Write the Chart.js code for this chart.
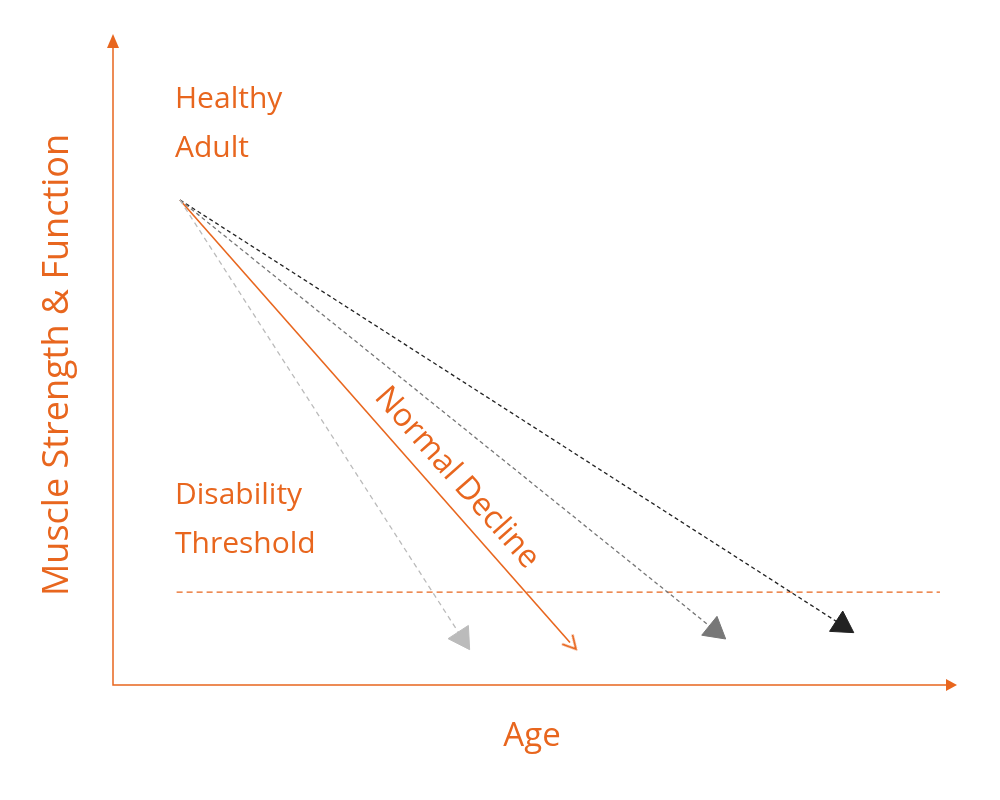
<!DOCTYPE html>
<html><head><meta charset="utf-8">
<script src="https://cdn.jsdelivr.net/npm/chart.js@4"></script>
<style>html,body{margin:0;padding:0;background:#fff}#w{width:1000px;height:800px}</style>
</head><body><div id="w"><canvas id="c"></canvas></div>
<script>
const ORANGE = '#E8661E';
const startPoint = [8.0, 75.2];
const lightEnd = [41.7, 7.3];
const normalEnd = [54.6, 6.6];
const midEnd = [71.9, 8.5];
const darkEnd = [87.1, 9.3];
const thresholdY = 14.4;
const thresholdX = [7.6, 98.8];
const labels = {healthy:['Healthy','Adult'], disability:['Disability','Threshold'], decline:'Normal Decline', xTitle:'Age', yTitle:'Muscle Strength & Function'};

function chevron(color){
  const c=document.createElement('canvas');c.width=24;c.height=24;
  const g=c.getContext('2d');g.strokeStyle=color;g.lineWidth=2;
  g.beginPath();g.moveTo(5,16);g.lineTo(12,3);g.lineTo(19,16);g.stroke();return c;
}
function seg(a,b,color,dash,style,rot,w){
  return {data:[{x:a[0],y:a[1]},{x:b[0],y:b[1]}],borderColor:color,backgroundColor:color,borderWidth:w||1.3,borderDash:dash,
    pointRadius:[0,14],pointStyle:style,rotation:rot,pointBorderWidth:1,pointBorderColor:color,pointBackgroundColor:color};
}
const chev = chevron(ORANGE);
const textPlugin = {id:'txt', afterDraw(ch){
  const g=ch.ctx, a=ch.chartArea;
  g.save();g.strokeStyle=ORANGE;g.fillStyle=ORANGE;g.lineWidth=1.5;
  g.beginPath();g.moveTo(a.left,a.top-3);g.lineTo(a.left,a.bottom);g.lineTo(a.right+5,a.bottom);g.stroke();
  g.beginPath();g.moveTo(a.left-6,a.top+8);g.lineTo(a.left,a.top-6);g.lineTo(a.left+6,a.top+8);g.fill();
  g.beginPath();g.moveTo(a.right-4,a.bottom-6);g.lineTo(a.right+7,a.bottom);g.lineTo(a.right-4,a.bottom+6);g.fill();
  g.font='30px "Open Sans"';g.textBaseline='alphabetic';g.textAlign='left';
  g.fillText(labels.healthy[0],175,108);g.fillText(labels.healthy[1],175,157);
  g.fillText(labels.disability[0],175,504);g.fillText(labels.disability[1],175,553);
  g.textAlign='center';g.font='33px "Open Sans"';g.fillText(labels.xTitle,532,746);
  g.save();g.translate(68,365);g.rotate(-Math.PI/2);g.font='36px "Open Sans"';g.fillText(labels.yTitle,0,0);g.restore();
  g.save();g.translate(450,484);g.rotate(48.4*Math.PI/180);g.font='32px "Open Sans"';g.fillText(labels.decline,0,0);g.restore();
  g.restore();
}};
new Chart(document.getElementById('c'),{type:'line',
  data:{datasets:[
    seg(startPoint,lightEnd,'#bbbbbb',[5,4],'triangle',147),
    seg(startPoint,midEnd,'#777777',[4,3],'triangle',129),
    seg(startPoint,darkEnd,'#222222',[4,3],'triangle',123),
    {...seg(startPoint,normalEnd,ORANGE,[],chev,138,1.6),pointRadius:[0,12]},
    {data:[{x:thresholdX[0],y:thresholdY},{x:thresholdX[1],y:thresholdY}],borderColor:ORANGE,borderWidth:1.3,borderDash:[6,4],pointRadius:0}
  ]},
  options:{responsive:true,maintainAspectRatio:false,animation:false,
    layout:{padding:{left:113,right:50,top:40,bottom:115}},
    plugins:{legend:{display:false},tooltip:{enabled:false}},
    scales:{x:{type:'linear',min:0,max:100,display:false},y:{type:'linear',min:0,max:100,display:false}}},
  plugins:[textPlugin]});
</script></body></html>
